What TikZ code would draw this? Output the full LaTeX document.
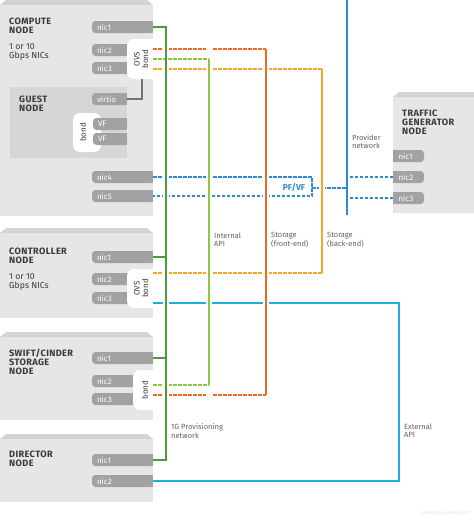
\documentclass[tikz,border=0pt]{standalone}
\usepackage{fontspec}
\setmainfont{Fira Sans}
\usetikzlibrary{calc}
\definecolor{boxc}{HTML}{E6E6E6}
\definecolor{bevelc}{HTML}{D3D3D3}
\definecolor{guestc}{HTML}{D6D6D6}
\definecolor{nicc}{HTML}{A2A2A2}
\definecolor{txtc}{HTML}{3A3A3A}
\definecolor{lblc}{HTML}{606060}
\definecolor{provg}{HTML}{4C9A3C}
\definecolor{apig}{HTML}{8DC63F}
\definecolor{fec}{HTML}{EE6A24}
\definecolor{bec}{HTML}{F4A72A}
\definecolor{pblue}{HTML}{2D8AD2}
\definecolor{extc}{HTML}{1FAEE0}
\newcommand\srvbox[4]{%
  \fill[bevelc] (#1+6,#3) -- (#2-6,#3) -- (#2,#3+5) -- (#1,#3+5) -- cycle;
  \fill[boxc] (#1,#3+5) rectangle (#2,#4);}
\newcommand\sqR[1]{\fill[nicc] ($(#1.north east)+(-5,0)$) rectangle (#1.south east);}
\newcommand\sqL[1]{\fill[nicc] (#1.north west) rectangle ($(#1.south west)+(5,0)$);}
\tikzset{
  nic/.style={fill=nicc, rounded corners=3.5pt, minimum height=12pt, text width=#1,
    inner xsep=5pt, inner ysep=0pt, outer sep=0pt, align=left, anchor=west,
    font=\fontsize{8}{8}\selectfont, text=white},
  ntitle/.style={anchor=west, align=left, inner sep=0pt, text=txtc,
    font=\fontsize{9.2}{9}\selectfont\bfseries\addfontfeature{LetterSpace=4}},
  nspec/.style={anchor=west, align=left, inner sep=0pt, text=txtc,
    font=\fontsize{8.7}{9}\selectfont},
  lbl/.style={anchor=west, align=left, inner sep=0pt, text=lblc,
    font=\fontsize{7.5}{8.3}\selectfont},
  bondtxt/.style={rotate=90, align=center, inner sep=0pt, text=txtc,
    font=\fontsize{8}{8.5}\selectfont},
  bubble/.style={fill=white, rounded corners=7pt},
  lnprov/.style={draw=provg, line width=2pt},
  lnapi/.style={draw=apig, line width=2pt},
  lnfe/.style={draw=fec, line width=2pt},
  lnbe/.style={draw=bec, line width=2pt},
  lnpb/.style={draw=pblue, line width=2pt},
  lnext/.style={draw=extc, line width=2pt},
  dsh/.style={line width=1.2pt, dash pattern=on 3.5pt off 1.5pt},
}
\begin{document}
\begin{tikzpicture}[x=1pt,y=-1pt]
\useasboundingbox (0,0) rectangle (474,520);
% ---------------- boxes
\srvbox{0}{153}{0}{216}
\srvbox{0}{153}{228}{318}
\srvbox{0}{153}{332}{420}
\srvbox{0}{153}{434}{502}
\srvbox{393}{481}{92}{213}
\fill[guestc] (10,87) rectangle (127,158);
% ---------------- titles
\node[ntitle] (tc) at (9,25.5) {COMPUTE\\NODE};
\node[nspec] (sc) at (9,51.5) {1 or 10\\Gbps NICs};
\node[ntitle] (tg) at (19,103.5) {GUEST\\NODE};
\node[ntitle] (tct) at (9,255.5) {CONTROLLER\\NODE};
\node[nspec] (sct) at (9,281.5) {1 or 10\\Gbps NICs};
\node[ntitle] (ts) at (9,361.5) {SWIFT/CINDER\\STORAGE\\NODE};
\node[ntitle] (td) at (9,458.5) {DIRECTOR\\NODE};
\node[ntitle] (tt) at (402,122) {TRAFFIC\\GENERATOR\\NODE};
% ---------------- guest bond bubble
\fill[bubble] (73,113) rectangle (101,152);
\node[bondtxt] (gbond) at (83,132.5) {bond};
% ---------------- nics
\node[nic=51pt] (cn1) at (92,27) {nic1}; \sqR{cn1}
\node[nic=51pt] (cn2) at (92,50) {nic2}; \sqR{cn2}
\node[nic=51pt] (cn3) at (92,68) {nic3}; \sqR{cn3}
\node[nic=51pt] (cn4) at (92,177) {nic4}; \sqR{cn4}
\node[nic=51pt] (cn5) at (92,196) {nic5}; \sqR{cn5}
\node[nic=25pt] (virtio) at (92,99) {virtio}; \sqR{virtio}
\node[nic=24pt] (vf1) at (93,124) {VF}; \sqR{vf1}
\node[nic=24pt] (vf2) at (93,139) {VF}; \sqR{vf2}
\node[nic=51pt] (kn1) at (92,257) {nic1}; \sqR{kn1}
\node[nic=51pt] (kn2) at (92,279) {nic2}; \sqR{kn2}
\node[nic=51pt] (kn3) at (92,298) {nic3}; \sqR{kn3}
\node[nic=51pt] (sn1) at (92,358) {nic1}; \sqR{sn1}
\node[nic=51pt] (sn2) at (92,381) {nic2}; \sqR{sn2}
\node[nic=51pt] (sn3) at (92,399) {nic3}; \sqR{sn3}
\node[nic=51pt] (dn1) at (92,460) {nic1}; \sqR{dn1}
\node[nic=51pt] (dn2) at (92,481) {nic2}; \sqR{dn2}
\node[nic=20pt, inner xsep=5.5pt] (tn1) at (393,156) {nic1}; \sqL{tn1}
\node[nic=20pt, inner xsep=5.5pt] (tn2) at (393,177) {nic2}; \sqL{tn2}
\node[nic=20pt, inner xsep=5.5pt] (tn3) at (393,198) {nic3}; \sqL{tn3}
% ---------------- bond bubbles
\fill[bubble] (127,39) rectangle (161,79);
\node[bondtxt] (cbond) at (141,59) {OVS\\bond};
\fill[bubble] (127,269) rectangle (161,308);
\node[bondtxt] (kbond) at (141,288.5) {OVS\\bond};
\fill[bubble] (133,370) rectangle (161,410);
\node[bondtxt] (sbond) at (145,390) {bond};
% ---------------- coordinates
\coordinate (cbS) at (142,79);
\coordinate (cbE) at (153,59);
\coordinate (kbE) at (153,288);
\coordinate (sbE) at (153,390);
\coordinate (provT) at (166,27);
\coordinate (apiT) at (209,59);  \coordinate (apiB) at (209,385);
\coordinate (feT) at (266,49);   \coordinate (feB) at (266,395);
\coordinate (beT) at (322,69);   \coordinate (beB) at (322,273);
\coordinate (pnT) at (347,0);    \coordinate (pnB) at (347,215);
\coordinate (exC) at (399,303);
\coordinate (pfR) at (312,188);
% ---------------- gray virtio link
\draw[draw=black!55, line width=1.1pt] (cbS) |- (virtio.east);
% ---------------- dashed horizontals
\draw[draw=fec, dsh] ($(cbE)+(0,-10)$) -- (feT);
\draw[draw=apig, dsh] (cbE) -- (apiT);
\draw[draw=bec, dsh] ($(cbE)+(0,10)$) -- (beT);
\draw[draw=bec, dsh] ($(kbE)+(0,-15)$) -- (beB);
\draw[draw=fec, dsh] ($(kbE)+(0,-5)$) -- ($(kbE)+(0,-5)$ -| feT);
\draw[draw=apig, dsh] ($(kbE)+(0,5)$) -- ($(kbE)+(0,5)$ -| apiT);
\draw[draw=apig, dsh] ($(sbE)+(0,-5)$) -- (apiB);
\draw[draw=fec, dsh] ($(sbE)+(0,5)$) -- (feB);
\draw[draw=pblue, dsh] (cn4.east) -| (pfR) |- (cn5.east);
\draw[draw=pblue, dsh] (pfR) -- (pfR -| pnT);
\draw[draw=pblue, dsh] (tn2.west) -- (tn2.west -| pnT);
\draw[draw=pblue, dsh] (tn3.west) -- (tn3.west -| pnT);
\draw[lnext] ($(kbE)+(0,15)$) -- (exC) |- (dn2.east);
% ---------------- crossing gaps
\foreach \gx/\gy in {166/49,209/49,166/69,209/69,266/69,166/177,209/177,266/177,
  166/196,209/196,266/196,322/188,166/273,209/273,266/273,166/283,209/283,
  166/303,209/303,266/303,166/385,166/395,209/395}
  \fill[white] (\gx-3,\gy-2.5) rectangle (\gx+3,\gy+2.5);
% ---------------- verticals and solid links
\draw[lnprov] (cn1.east) -| (provT |- dn1.east) -- (dn1.east);
\draw[lnprov] (kn1.east) -- (kn1.east -| provT);
\draw[lnprov] (sn1.east) -- (sn1.east -| provT);
\draw[lnapi] (apiT) -- (apiB);
\draw[lnfe] (feT) -- (feB);
\draw[lnbe] (beT) -- (beB);
\draw[lnpb] (pnT) -- (pnB);
% ---------------- labels
\node[text=pblue, inner sep=0pt, font=\fontsize{8.5}{9}\selectfont\bfseries] (pfvf) at (294,188) {PF/VF};
\node[lbl] (lpn) at (352,141.5) {Provider\\network};
\node[lbl] (lapi) at (214,240) {Internal\\API};
\node[lbl] (lfe) at (271,240) {Storage\\(front-end)};
\node[lbl] (lbe) at (327,240) {Storage\\(back-end)};
\node[lbl] (lprov) at (171,431) {1G Provisioning\\network};
\node[lbl] (lext) at (404,431) {External\\API};
\node[anchor=east, inner sep=0pt, text=black!12, font=\fontsize{4.5}{5}\selectfont] (wm) at (471,513) {OPENSTACK\_450694\_0617};
\end{tikzpicture}
\end{document}
